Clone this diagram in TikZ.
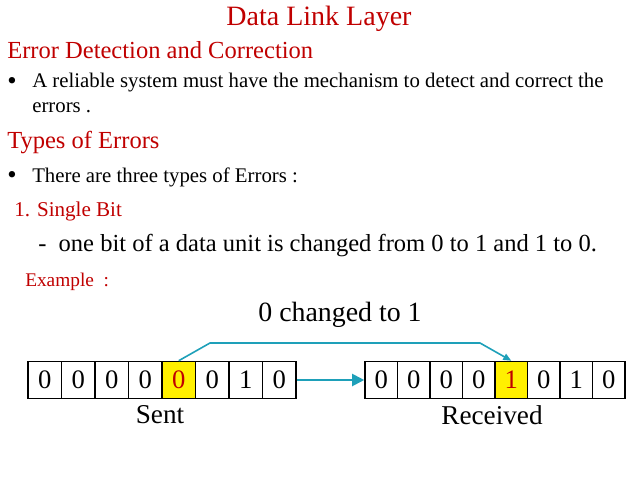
\documentclass[tikz,border=0pt]{standalone}
\usepackage{fontspec}
\setmainfont{Liberation Serif}
\usetikzlibrary{positioning,arrows.meta}
\definecolor{headred}{RGB}{192,0,0}
\definecolor{linkcyan}{RGB}{30,160,185}
\definecolor{bityellow}{RGB}{255,240,0}
\tikzset{
  bitcell/.style={draw,line width=1.2pt,minimum width=33.5*0.75pt,minimum height=37*0.75pt,inner sep=0pt,font=\fontsize{20}{20}\selectfont},
  flipcell/.style={bitcell,fill=bityellow,text=headred},
  linetext/.style={anchor=west,inner sep=0pt,font=\fontsize{15.6}{17}\selectfont}
}
\begin{document}
\begin{tikzpicture}[x=0.75pt,y=-0.75pt]
\useasboundingbox (0,0) rectangle (638,478);
% headings
\node[text=headred,font=\fontsize{21}{23}\selectfont] (title) at (319,19) {Data Link Layer};
\node[linetext,text=headred,font=\fontsize{18.4}{20}\selectfont] (h1) at (7,50) {Error Detection and Correction};
\node[linetext,font=\fontsize{20}{20}\selectfont] (b1) at (7,83) {\textbullet};
\node[linetext] (t1) at (32,83) {A reliable system must have the mechanism to detect and correct the};
\node[linetext] (t1b) at (32,108) {errors .};
\node[linetext,text=headred,font=\fontsize{18.4}{20}\selectfont] (h2) at (7,143) {Types of Errors};
\node[linetext,font=\fontsize{20}{20}\selectfont] (b2) at (7,177) {\textbullet};
\node[linetext] (t2) at (32,177) {There are three types of Errors :};
\node[linetext,text=headred,font=\fontsize{15.8}{17}\selectfont] (h3) at (14,211) {1. Single Bit};
\node[linetext,font=\fontsize{18.4}{20}\selectfont] (t3) at (38,246) {-\ \ one bit of a data unit is changed from 0 to 1 and 1 to 0.};
\node[linetext,text=headred,font=\fontsize{14.5}{16}\selectfont] (ex) at (25,282) {Example\ \ :};
% bits
\foreach \b [count=\i] in {0,0,0,0,0,0,1,0}{
  \ifnum\i=5 \node[flipcell] (s\i) at (28+33.5*\i-16.75,380) {\b};
  \else \node[bitcell] (s\i) at (28+33.5*\i-16.75,380) {\b}; \fi
}
\foreach \b [count=\i] in {0,0,0,0,1,0,1,0}{
  \ifnum\i=5 \node[flipcell,minimum width=32.5*0.75pt] (r\i) at (365+32.5*\i-16.25,380) {\b};
  \else \node[bitcell,minimum width=32.5*0.75pt] (r\i) at (365+32.5*\i-16.25,380) {\b}; \fi
}
\node[font=\fontsize{20.4}{22}\selectfont] (sent) at (160,415) {Sent};
\node[font=\fontsize{20.4}{22}\selectfont] (recv) at (492,415) {Received};
\node[font=\fontsize{20.9}{22}\selectfont] (chg) at (340,315) {0 changed to 1};
% connectors
\draw[linkcyan,line width=1.5pt,-{Triangle[length=9pt,width=9pt]}] (s8.east) -- (r1.west);
\draw[linkcyan,line width=1.2pt,-{Triangle[length=6pt,width=5pt]}] (s5.north) -- (210,343) -- (480,343) -- (r5.north);
\end{tikzpicture}
\end{document}
